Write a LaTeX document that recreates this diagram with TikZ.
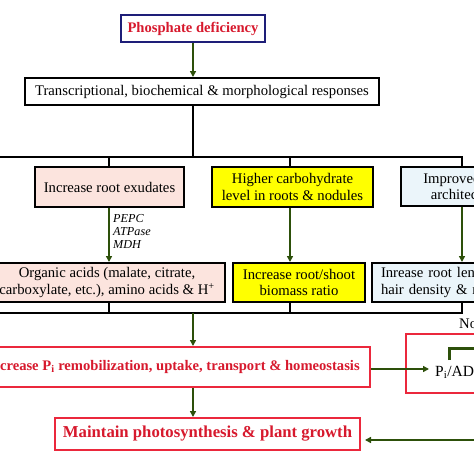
\documentclass[tikz,border=0pt]{standalone}
\usepackage{fontspec}
\setmainfont{Liberation Serif}
\usetikzlibrary{arrows.meta}
\definecolor{blueb}{RGB}{30,30,120}
\definecolor{redt}{RGB}{215,25,45}
\definecolor{redb}{RGB}{235,40,60}
\definecolor{garr}{RGB}{45,80,10}
\definecolor{pinkf}{RGB}{252,228,222}
\definecolor{yelf}{RGB}{255,255,0}
\definecolor{bluef}{RGB}{235,245,250}
\newcommand\fsmain{\fontsize{14.7}{16.5}\selectfont}
\newcommand\fsbold{\fontsize{14.6}{16.5}\selectfont\bfseries}
\newcommand\fsbig{\fontsize{16.7}{18}\selectfont\bfseries}
\newcommand\fssmall{\fontsize{12.2}{13}\selectfont\itshape}
\begin{document}
\begin{tikzpicture}[x=1pt,y=-1pt,
  box/.style={draw=black,line width=2pt,inner sep=0pt,align=center,font=\fsmain},
  redbox/.style={draw=redb,line width=2pt,fill=white,inner sep=0pt,align=center,text=redt},
  conn/.style={draw=black,line width=2pt},
  garrow/.style={draw=garr,line width=2pt,-{Triangle[width=6pt,length=6pt]}},
  gline/.style={draw=garr,line width=3pt}]
\useasboundingbox (0,0) rectangle (474,474);
\clip (0,0) rectangle (474,474);
\fill[white] (0,0) rectangle (474,474);
% nodes
\node[draw=blueb,line width=1.6pt,inner sep=0pt,minimum width=144pt,minimum height=27pt,text=redt,font=\fsbold] (phos) at (193,28.5) {Phosphate deficiency};
\node[box,minimum width=354pt,minimum height=27pt] (trans) at (202,91.5) {Transcriptional, biochemical \& morphological responses};
\node[box,fill=pinkf,minimum width=149pt,minimum height=40pt] (exud) at (109.5,187) {Increase root exudates};
\node[box,fill=yelf,minimum width=161pt,minimum height=40pt] (carb) at (292.5,187) {Higher carbohydrate\\level in roots \& nodules};
\node[box,fill=bluef,minimum width=129pt,minimum height=39pt] (arch) at (465.5,186.5) {Improved root\\architecture};
\node[box,fill=pinkf,minimum width=236pt,minimum height=39pt] (org) at (107,282.5) {Organic acids (malate, citrate,\\carboxylate, etc.), amino acids \& H\textsuperscript{+}};
\node[box,fill=yelf,minimum width=132pt,minimum height=39pt] (ratio) at (299,282.5) {Increase root/shoot\\biomass ratio};
\node[box,fill=bluef,minimum width=168pt,minimum height=39pt,align=left,text width=150pt] (len) at (456,282.5) {Inrease root length,\\hair density \& number};
\node[redbox,minimum width=394pt,minimum height=40pt,font=\fsbold] (incr) at (173,367) {Increase P\textsubscript{i} remobilization, uptake, transport \& homeostasis};
\node[redbox,minimum width=110pt,minimum height=59pt] (pibox) at (461,363.5) {};
\node[anchor=west,inner sep=0pt,font=\fontsize{15.5}{17}\selectfont] (pitext) at (435,372) {P\textsubscript{i}/ADP};
\node[anchor=west,inner sep=0pt,font=\fsmain] (ntext) at (459,323) {Nodule};
\node[redbox,minimum width=305pt,minimum height=32pt,font=\fsbig] (maint) at (207.5,434) {Maintain photosynthesis \& plant growth};
\node[anchor=north west,inner sep=0pt,font=\fssmall,align=left] (enz) at (113,214) {PEPC\\ATPase\\MDH};
% coordinates
\coordinate (colA) at (109,0);
\coordinate (colB) at (290,0);
\coordinate (colC) at (462,0);
\coordinate (busT) at (-20,157);
\coordinate (busB) at (-20,313);
\coordinate (rin) at (490,440);
\coordinate (brA) at (449,360);
\coordinate (brB) at (449,348);
\coordinate (brC) at (490,348);
% connectors
\draw[garrow] (phos.south) -- (phos.south |- trans.north);
\draw[conn] (phos.south |- trans.south) -- (phos.south |- busT);
\draw[conn] (busT) -- (colC |- busT) -- (colC |- arch.north);
\draw[conn] (colA |- busT) -- (colA |- exud.north);
\draw[conn] (colB |- busT) -- (colB |- carb.north);
\draw[garrow,line width=1.5pt] (colA |- exud.south) -- (colA |- org.north);
\draw[garrow,line width=1.5pt] (colB |- carb.south) -- (colB |- ratio.north);
\draw[garrow,line width=1.5pt] (colC |- arch.south) -- (colC |- len.north);
\draw[conn] (colA |- org.south) -- (colA |- busB);
\draw[conn] (colB |- ratio.south) -- (colB |- busB);
\draw[conn] (colC |- len.south) -- (colC |- busB) -- (busB);
\draw[garrow,line width=2.6pt] (phos.south |- busB) -- (phos.south |- incr.north);
\draw[garrow,line width=2.6pt] (phos.south |- incr.south) -- (phos.south |- maint.north);
\draw[garrow,line width=2.6pt] (incr.east |- 0,369) -- ([xshift=-6pt]pitext.west |- 0,369);
\draw[garrow,line width=2.6pt,shorten >=4pt] (rin) -- (maint.east |- rin);
\draw[gline] (brA) -- (brB) -- (brC);
\end{tikzpicture}
\end{document}
